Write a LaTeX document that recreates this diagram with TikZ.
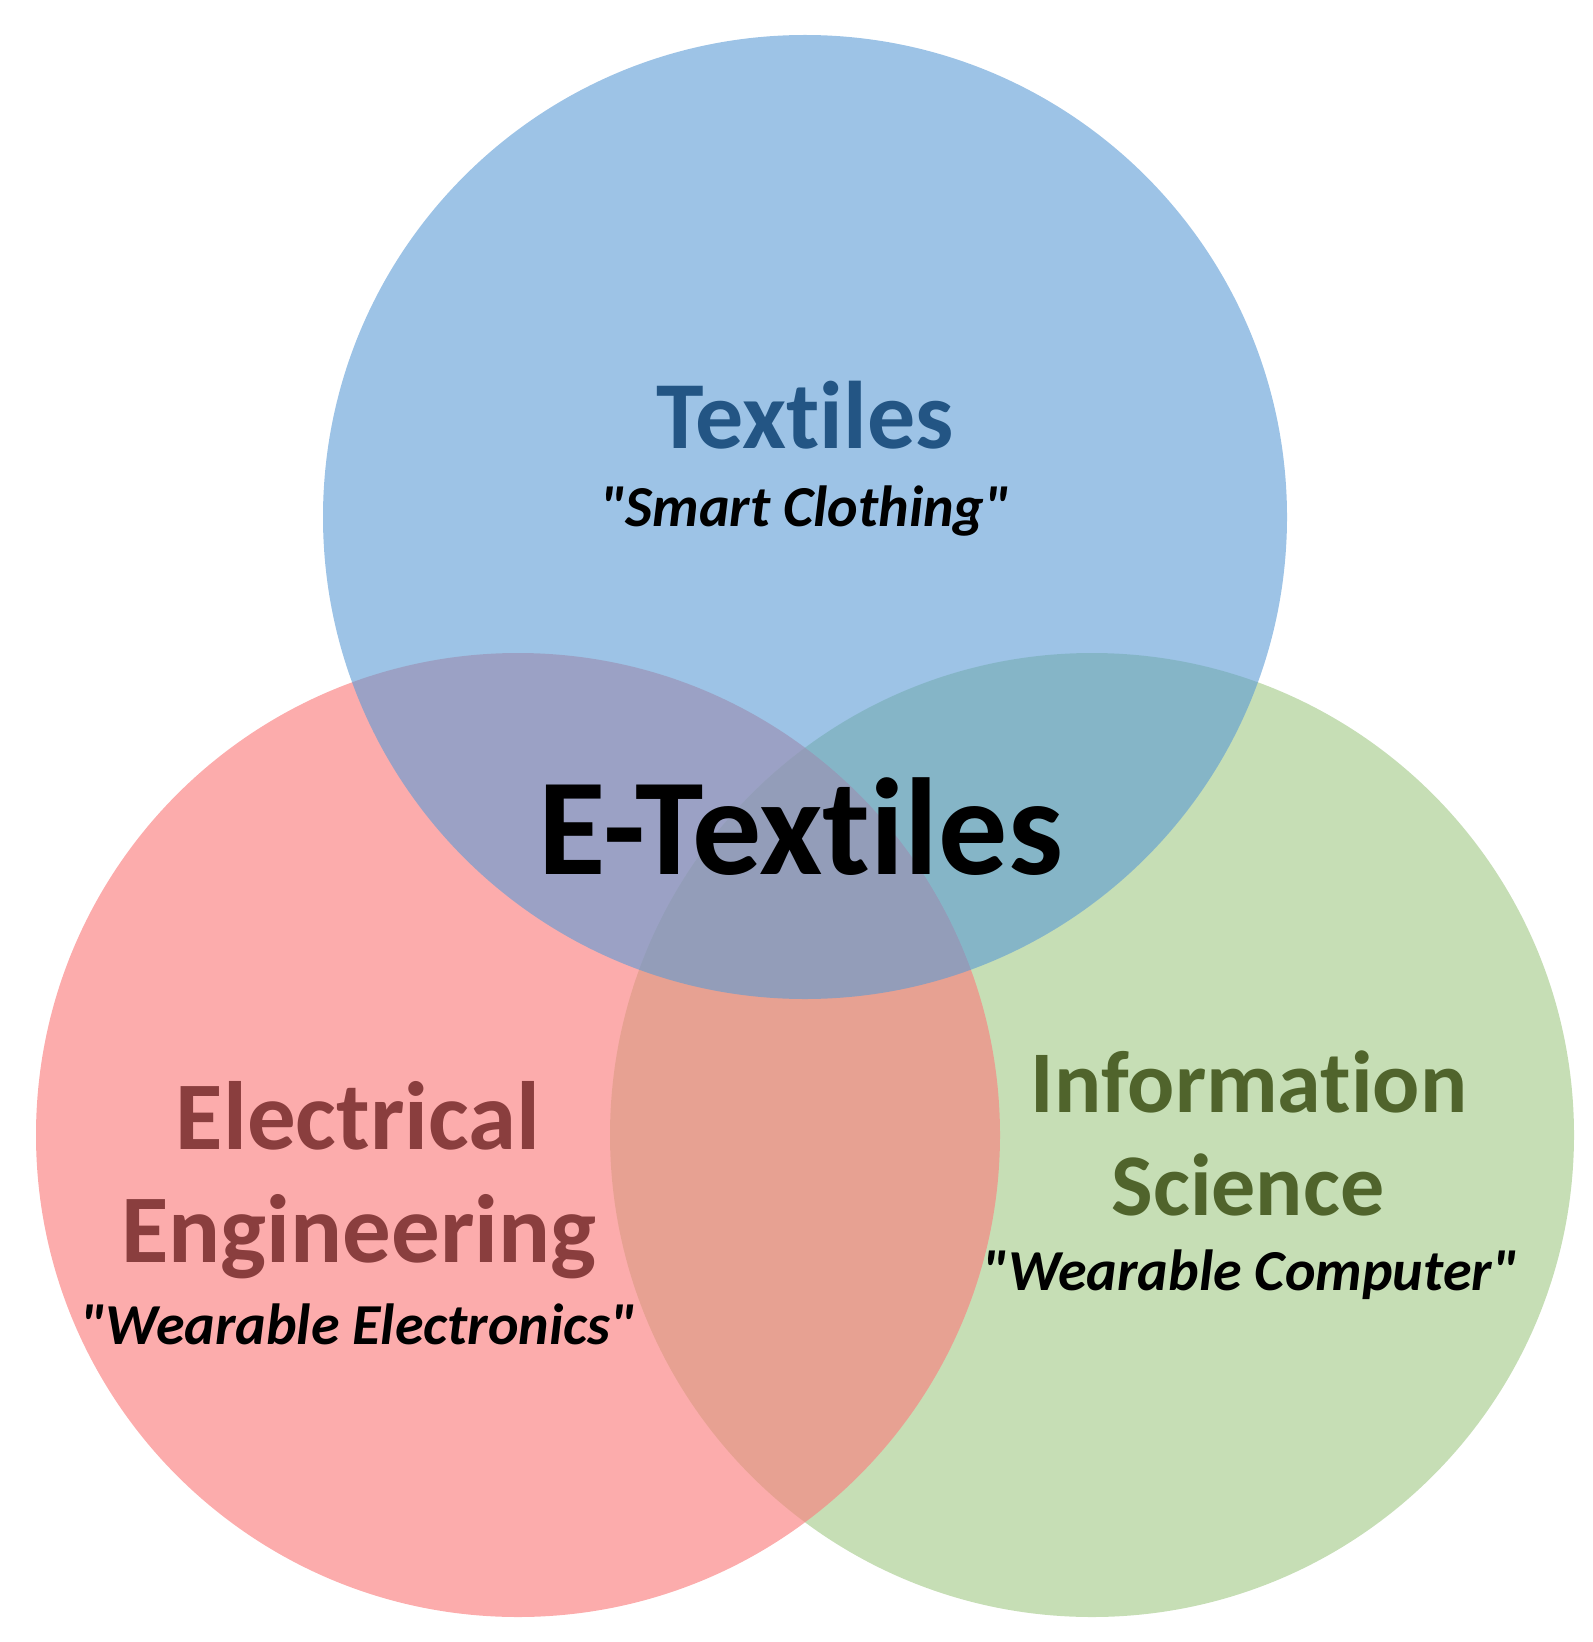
\documentclass[tikz,border=0pt]{standalone}
\usepackage{fontspec}
\setmainfont{Carlito}[Ligatures=NoCommon]

\definecolor{circblue}{RGB}{91,155,213}
\definecolor{circred}{RGB}{250,128,128}
\definecolor{circgreen}{RGB}{112,173,71}
\definecolor{labblue}{RGB}{35,85,132}
\definecolor{labred}{RGB}{138,62,62}
\definecolor{labgreen}{RGB}{80,100,44}

\tikzset{every picture/.style={line width=0.75pt}}
\tikzset{
  field/.style={font=\bfseries\fontsize{#1}{50}\selectfont, anchor=base},
  field/.default=48,
  nickname/.style={font=\bfseries\itshape\fontsize{29}{32}\selectfont, anchor=base, text=black},
}

\begin{document}
\begin{tikzpicture}[x=0.5pt,y=0.5pt,yscale=-1,xscale=1]
	\useasboundingbox (0,0) rectangle (1593,1642);

	%Shape: Circle [id:green]
	\fill [circgreen, fill opacity=0.4] (1092,1135) circle (482) ;
	%Shape: Circle [id:red]
	\fill [circred, fill opacity=0.65] (518,1135) circle (482) ;
	%Shape: Circle [id:blue]
	\fill [circblue, fill opacity=0.6] (805,517) circle (482) ;

	% Text Node
	\node [field=48, text=labblue] (textiles) at (805,448) {Textiles};
	% Text Node
	\node [nickname] (smart) at (805,526) {\textquotedbl Smart Clothing\textquotedbl};
	% Text Node
	\node [field=69, text=black] (etex) at (801,874) {E-Textiles};
	% Text Node
	\node [field=48.5, text=labred] (elec) at (358,1149) {Electrical};
	% Text Node
	\node [field=48.5, text=labred] (eng) at (359,1262) {Engineering};
	% Text Node
	\node [nickname] (wearel) at (358,1344) {\textquotedbl Wearable Electronics\textquotedbl};
	% Text Node
	\node [field=44, text=labgreen] (info) at (1249,1112) {Information};
	% Text Node
	\node [field=44, text=labgreen] (sci) at (1248,1215) {Science};
	% Text Node
	\node [nickname] (wearcomp) at (1250,1290) {\textquotedbl Wearable Computer\textquotedbl};

\end{tikzpicture}
\end{document}
